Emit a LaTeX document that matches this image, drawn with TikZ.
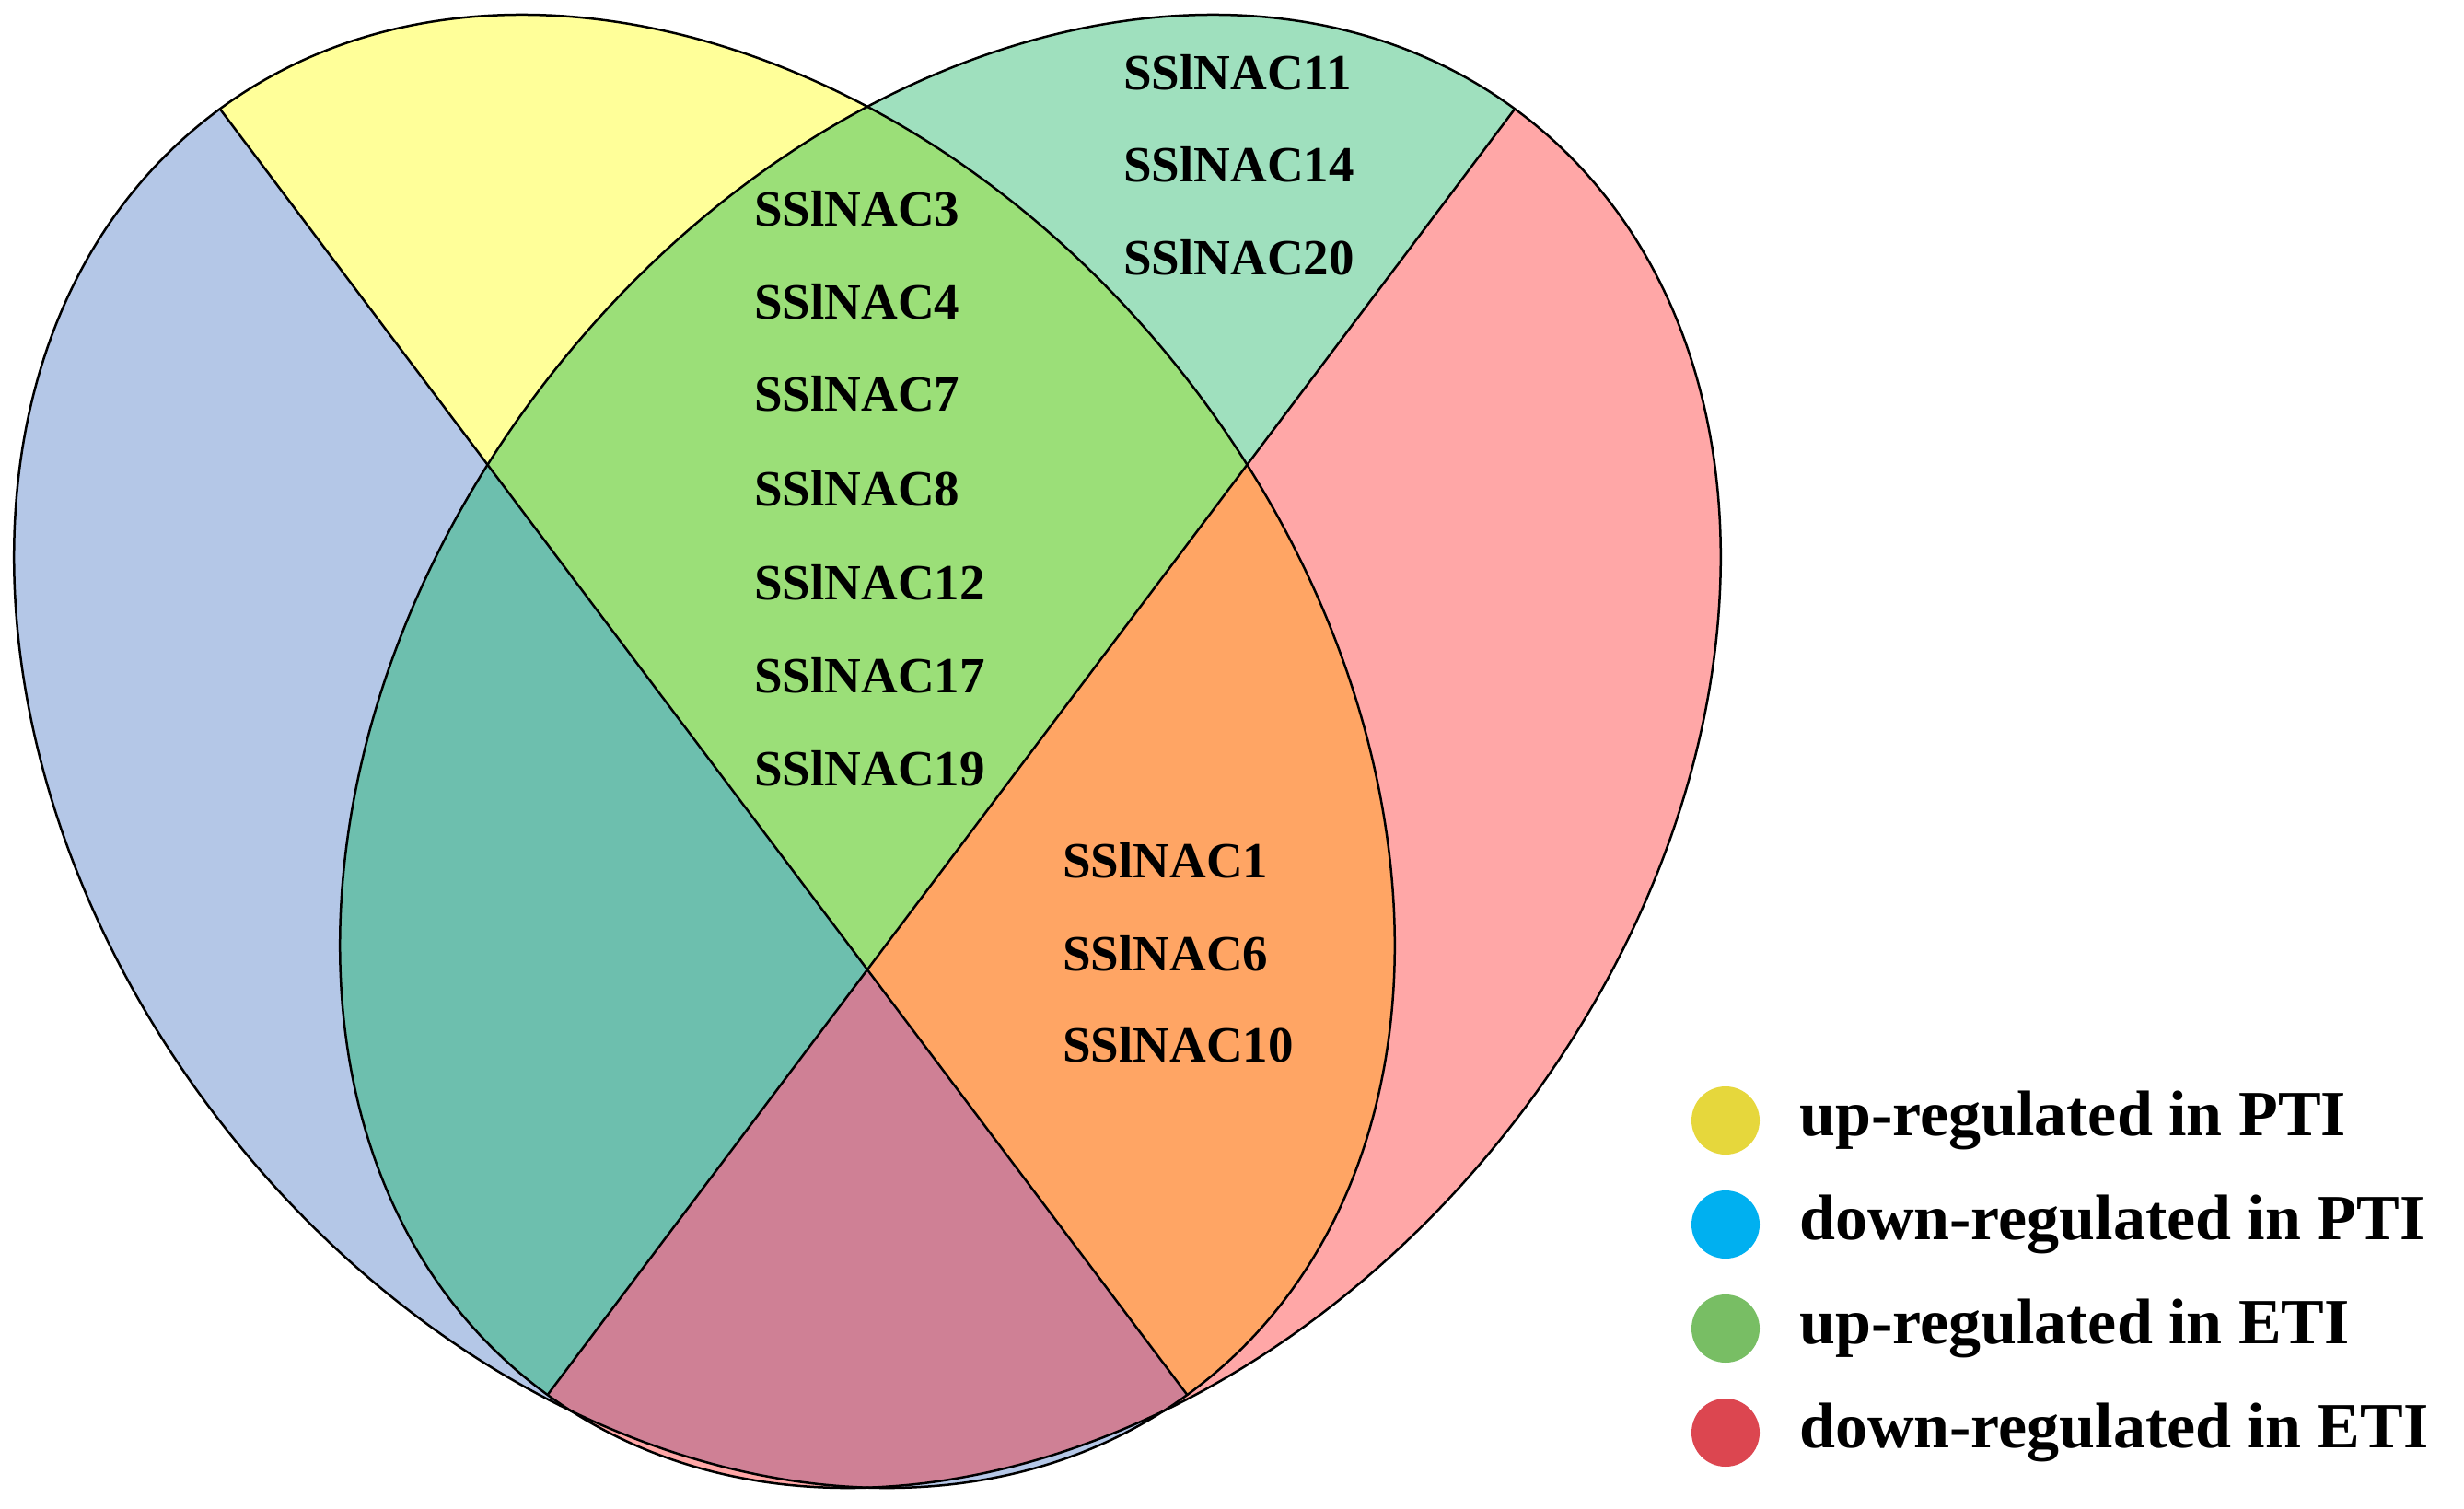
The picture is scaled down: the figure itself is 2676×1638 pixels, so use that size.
\documentclass[tikz,border=0pt]{standalone}
\usepackage{fontspec}
\setmainfont{Liberation Serif}
\definecolor{cB}{RGB}{180,199,231}
\definecolor{cY}{RGB}{255,255,153}
\definecolor{cG}{RGB}{159,224,190}
\definecolor{cR}{RGB}{255,167,167}
\definecolor{cYG}{RGB}{155,223,120}
\definecolor{cBG}{RGB}{109,191,174}
\definecolor{cYR}{RGB}{255,165,100}
\definecolor{cBR}{RGB}{207,128,149}
\definecolor{lY}{RGB}{230,215,60}
\definecolor{lB}{RGB}{0,176,240}
\definecolor{lG}{RGB}{120,190,100}
\definecolor{lR}{RGB}{220,70,80}
\begin{document}
\begin{tikzpicture}[x=1pt,y=-1pt,
  gene/.style={anchor=west,font=\fontsize{55}{60}\selectfont\bfseries,inner sep=0pt},
  legtext/.style={anchor=west,font=\fontsize{70}{76}\selectfont\bfseries,inner sep=0pt},
  outline/.style={draw=black,line width=2.5pt}]
\useasboundingbox (0,0) rectangle (2676,1638);
\def\EA{(765,816) ellipse [x radius=874pt,y radius=662pt,rotate=-51.9]}
\def\EB{(1119,816) ellipse [x radius=874pt,y radius=662pt,rotate=51.9]}
\def\HY{(-275,-565) -- (1806,2202) -- (3000,2202) -- (3000,-565) -- cycle}
\def\HB{(-275,-565) -- (1806,2202) -- (-600,2202) -- (-600,-565) -- cycle}
\def\HG{(2159,-565) -- (78,2202) -- (-600,2202) -- (-600,-565) -- cycle}
\def\HR{(2159,-565) -- (78,2202) -- (3000,2202) -- (3000,-565) -- cycle}
% single sets
\begin{scope}\clip \EA; \fill[cY] \HY; \fill[cB] \HB; \end{scope}
\begin{scope}\clip \EB; \fill[cG] \HG; \fill[cR] \HR; \end{scope}
% overlaps
\begin{scope}
  \clip \EA; \clip \EB;
  \begin{scope}\clip \HY; \fill[cYG] \HG; \fill[cYR] \HR; \end{scope}
  \begin{scope}\clip \HB; \fill[cBG] \HG; \fill[cBR] \HR; \end{scope}
\end{scope}
% outlines
\begin{scope}\clip \EA; \draw[outline] (-275,-565) -- (1806,2202); \end{scope}
\begin{scope}\clip \EB; \draw[outline] (2159,-565) -- (78,2202); \end{scope}
\draw[outline] \EA;
\draw[outline] \EB;
% genes
\node[gene] (g3) at (819,227) {SSlNAC3};
\node[gene] (g4) at (819,328) {SSlNAC4};
\node[gene] (g7) at (819,428) {SSlNAC7};
\node[gene] (g8) at (819,531) {SSlNAC8};
\node[gene] (g12) at (819,633) {SSlNAC12};
\node[gene] (g17) at (819,734) {SSlNAC17};
\node[gene] (g19) at (819,835) {SSlNAC19};
\node[gene] (g11) at (1220,79) {SSlNAC11};
\node[gene] (g14) at (1220,179) {SSlNAC14};
\node[gene] (g20) at (1220,280) {SSlNAC20};
\node[gene] (g1) at (1154,935) {SSlNAC1};
\node[gene] (g6) at (1154,1036) {SSlNAC6};
\node[gene] (g10) at (1154,1135) {SSlNAC10};
% legend
\fill[lY] (1874,1217) circle (37);
\fill[lB] (1874,1330) circle (37);
\fill[lG] (1874,1443) circle (37);
\fill[lR] (1874,1556) circle (37);
\node[legtext] (t1) at (1954,1217) {up-regulated in PTI};
\node[legtext] (t2) at (1954,1330) {down-regulated in PTI};
\node[legtext] (t3) at (1954,1443) {up-regulated in ETI};
\node[legtext] (t4) at (1954,1556) {down-regulated in ETI};
\end{tikzpicture}
\end{document}
